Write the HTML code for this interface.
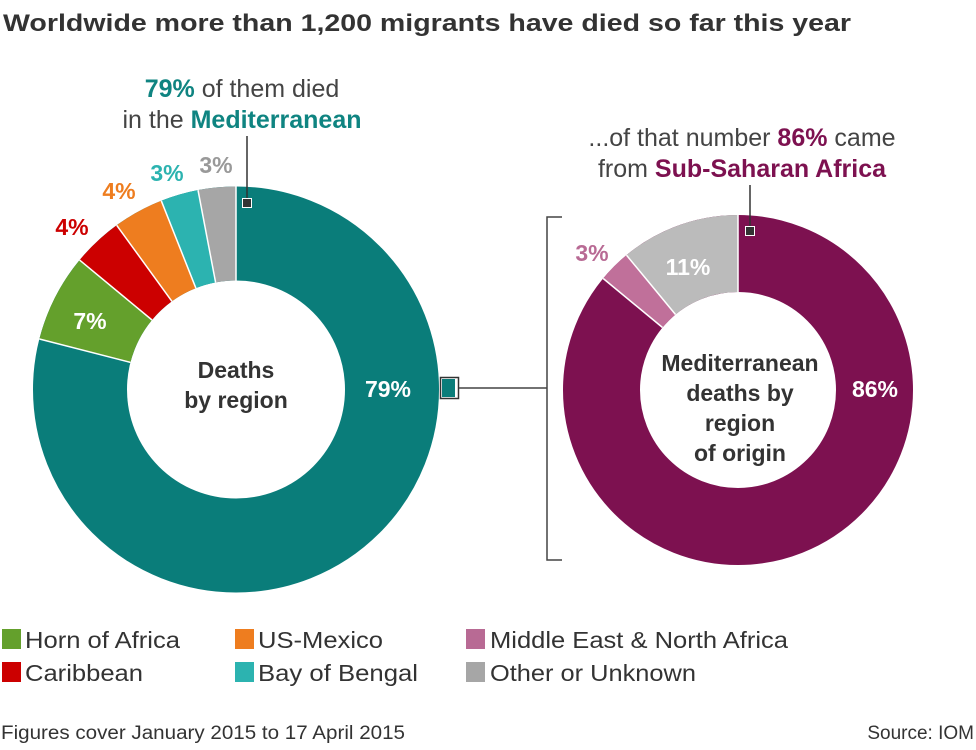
<!DOCTYPE html>
<html><head><meta charset="utf-8"><style>html,body{margin:0;padding:0;background:#fff}svg{display:block}text{font-family:"Liberation Sans",sans-serif}</style></head><body>
<svg width="976" height="750" viewBox="0 0 976 750" xmlns="http://www.w3.org/2000/svg">
<text x="3" y="31" font-size="24" font-weight="bold" fill="#333" textLength="848" lengthAdjust="spacingAndGlyphs">Worldwide more than 1,200 migrants have died so far this year</text>

<text x="242" y="97" font-size="25" text-anchor="middle" fill="#444"><tspan fill="#0f8481" font-weight="bold">79%</tspan> of them died</text>
<text x="242" y="128" font-size="25" text-anchor="middle" fill="#444">in the <tspan fill="#0f8481" font-weight="bold">Mediterranean</tspan></text>

<text x="742" y="146" font-size="25" text-anchor="middle" fill="#444">...of that number <tspan fill="#7d1150" font-weight="bold">86%</tspan> came</text>
<text x="742" y="177" font-size="25" text-anchor="middle" fill="#444">from <tspan fill="#7d1150" font-weight="bold">Sub-Saharan Africa</tspan></text>

<g transform="rotate(-90 236 389.5)" fill="none" stroke-width="94">
<circle cx="236" cy="389.5" r="156" stroke="#0a7d7a"/>
<circle cx="236" cy="389.5" r="156" pathLength="100" stroke="#64a02c" stroke-dasharray="7 93" stroke-dashoffset="-79"/>
<circle cx="236" cy="389.5" r="156" pathLength="100" stroke="#cc0000" stroke-dasharray="4 96" stroke-dashoffset="-86"/>
<circle cx="236" cy="389.5" r="156" pathLength="100" stroke="#ee7d1f" stroke-dasharray="4 96" stroke-dashoffset="-90"/>
<circle cx="236" cy="389.5" r="156" pathLength="100" stroke="#2cb3b0" stroke-dasharray="3 97" stroke-dashoffset="-94"/>
<circle cx="236" cy="389.5" r="156" pathLength="100" stroke="#a6a6a6" stroke-dasharray="3 97" stroke-dashoffset="-97"/>
</g>
<g stroke="#fff" stroke-width="1.5">
<line x1="130.4" y1="362.4" x2="39.4" y2="339"/>
<line x1="152" y1="320" x2="79.6" y2="260.1"/>
<line x1="171.9" y1="301.3" x2="116.7" y2="225.3"/>
<line x1="195.9" y1="288.2" x2="161.3" y2="200.8"/>
<line x1="215.6" y1="282.4" x2="198" y2="190.1"/>
<line x1="236" y1="280.5" x2="236" y2="186.5"/>
</g>
<line x1="247" y1="136" x2="247" y2="200" stroke="#333" stroke-width="1.5"/>
<rect x="242.5" y="198.5" width="9" height="9" fill="#333" stroke="#fff" stroke-width="1"/>
<g font-size="23" font-weight="bold" text-anchor="middle">
<text x="90" y="329" fill="#fff">7%</text>
<text x="72" y="235" fill="#cc0000">4%</text>
<text x="119" y="199" fill="#ee7d1f">4%</text>
<text x="167" y="181" fill="#2cb3b0">3%</text>
<text x="216" y="173" fill="#999">3%</text>
<text x="388" y="397" fill="#fff">79%</text>
<text x="236" y="378" fill="#333">Deaths</text>
<text x="236" y="408" fill="#333">by region</text>
</g>

<rect x="440.5" y="377.5" width="18" height="21" fill="#fff" stroke="#333" stroke-width="1.5"/>
<rect x="442" y="379" width="13" height="18" fill="#0a7d7a"/>
<line x1="459" y1="388" x2="547" y2="388" stroke="#444" stroke-width="1.5"/>
<polyline points="562,217 547,217 547,560 562,560" fill="none" stroke="#444" stroke-width="1.5"/>

<g transform="rotate(-90 738 390)" fill="none" stroke-width="77">
<circle cx="738" cy="390" r="136.5" stroke="#7d1150"/>
<circle cx="738" cy="390" r="136.5" pathLength="100" stroke="#c0709a" stroke-dasharray="3 97" stroke-dashoffset="-86"/>
<circle cx="738" cy="390" r="136.5" pathLength="100" stroke="#bbbbbb" stroke-dasharray="11 89" stroke-dashoffset="-89"/>
</g>
<g stroke="#fff" stroke-width="1.5">
<line x1="662.5" y1="327.5" x2="603.2" y2="278.5"/>
<line x1="675.5" y1="314.5" x2="626.5" y2="255.2"/>
<line x1="738" y1="292" x2="738" y2="215"/>
</g>
<line x1="750" y1="185" x2="750" y2="228" stroke="#333" stroke-width="1.5"/>
<rect x="745.5" y="226.5" width="9" height="9" fill="#333" stroke="#fff" stroke-width="1"/>
<g font-size="23" font-weight="bold" text-anchor="middle">
<text x="875" y="397" fill="#fff">86%</text>
<text x="688" y="275" fill="#fff">11%</text>
<text x="592" y="261" fill="#b86a94">3%</text>
<text x="740" y="371" fill="#333">Mediterranean</text>
<text x="740" y="401" fill="#333">deaths by</text>
<text x="740" y="431" fill="#333">region</text>
<text x="740" y="461" fill="#333">of origin</text>
</g>

<g font-size="23" fill="#333">
<rect x="2" y="629" width="19" height="20" fill="#64a02c"/>
<text x="25" y="648" textLength="155" lengthAdjust="spacingAndGlyphs">Horn of Africa</text>
<rect x="2" y="662" width="19" height="20" fill="#cc0000"/>
<text x="25" y="681" textLength="118" lengthAdjust="spacingAndGlyphs">Caribbean</text>
<rect x="235" y="629" width="19" height="20" fill="#ee7d1f"/>
<text x="258" y="648" textLength="125" lengthAdjust="spacingAndGlyphs">US-Mexico</text>
<rect x="235" y="662" width="19" height="20" fill="#2cb3b0"/>
<text x="258" y="681" textLength="160" lengthAdjust="spacingAndGlyphs">Bay of Bengal</text>
<rect x="466" y="629" width="19" height="20" fill="#b86a94"/>
<text x="490" y="648" textLength="298" lengthAdjust="spacingAndGlyphs">Middle East &amp; North Africa</text>
<rect x="466" y="662" width="19" height="20" fill="#a6a6a6"/>
<text x="490" y="681" textLength="206" lengthAdjust="spacingAndGlyphs">Other or Unknown</text>
</g>
<text x="1" y="739" font-size="19" fill="#333" textLength="404" lengthAdjust="spacingAndGlyphs">Figures cover January 2015 to 17 April 2015</text>
<text x="974" y="739" font-size="19" fill="#333" text-anchor="end">Source: IOM</text>
</svg>
</body></html>
